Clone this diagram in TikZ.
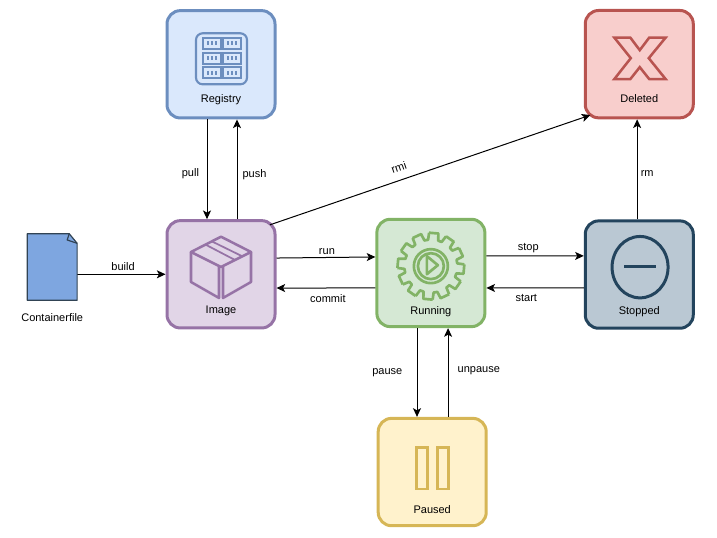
\documentclass[tikz,border=0pt]{standalone}
\usepackage{fontspec}
\setmainfont{Liberation Sans}
\usetikzlibrary{arrows.meta}

\definecolor{regfill}{HTML}{DAE8FC}
\definecolor{regline}{HTML}{6C8EBF}
\definecolor{imgfill}{HTML}{E1D5E7}
\definecolor{imgline}{HTML}{9673A6}
\definecolor{runfill}{HTML}{D5E8D4}
\definecolor{runline}{HTML}{82B366}
\definecolor{delfill}{HTML}{F8CECC}
\definecolor{delline}{HTML}{B85450}
\definecolor{stopfill}{HTML}{BAC8D3}
\definecolor{stopline}{HTML}{23445D}
\definecolor{pausefill}{HTML}{FFF2CC}
\definecolor{pauseline}{HTML}{D6B656}
\definecolor{docfill}{HTML}{7EA6E0}
\definecolor{docline}{HTML}{314354}

\tikzset{
  statebox/.style={rectangle,rounded corners=10pt,line width=2.25pt,draw=#1line,fill=#1fill,
    minimum width=81pt,minimum height=80.5pt,inner sep=0pt},
  statetext/.style={font=\fontsize{8.25}{10}\selectfont,text height=6pt,text depth=1.7pt,inner sep=0pt,yshift=-1.4pt},
  edgetext/.style={font=\fontsize{8.25}{10}\selectfont,yshift=-1.2pt},
}

\begin{document}
\begin{tikzpicture}[x=0.75pt,y=-0.75pt,->,>={Stealth[length=6.5pt,width=6pt,inset=1.6pt]},line width=0.75pt]

  \useasboundingbox (0,0) rectangle (717,538);

  \node[statebox=img] (image) at (221,274.3) {};
  \node[statebox=reg] (registry) [above of=image,node distance=157.5pt] {};
  \node[statebox=run] (running) [right of=image,node distance=157.4pt,yshift=1pt] {};
  \node[statebox=stop] (stopped) [right of=running,node distance=156.3pt,yshift=-1.2pt] {};
  \node[statebox=del] (deleted) [above of=stopped,node distance=157.8pt] {};
  \node[statebox=pause] (paused) [below of=running,node distance=149.3pt,xshift=1pt] {};
  \node[rectangle,minimum width=37.3pt,minimum height=50pt,inner sep=0pt,outer sep=0pt] (doc) at (52.2,267) {};

  \node[statetext] (registrytext) at ([yshift=-25.3pt]registry.center) {Registry};
  \node[statetext] (imagetext) at ([yshift=-26pt]image.center) {Image};
  \node[statetext] (runningtext) at ([yshift=-27.7pt]running.center) {Running};
  \node[statetext] (stoppedtext) at ([yshift=-26.5pt]stopped.center) {Stopped};
  \node[statetext] (deletedtext) at ([yshift=-25.3pt]deleted.center) {Deleted};
  \node[statetext] (pausedtext) at ([yshift=-27.7pt]paused.center) {Paused};
  \node[statetext] (doctext) at ([yshift=-37.5pt]doc.center) {Containerfile};

  % connectors
  \draw (doc.east |- image.west) -- node [edgetext,above,pos=.52] {build} (image.west);
  \draw ([xshift=-10.5pt]registry.south) -- node [edgetext,left=2.3pt,pos=.525] {pull} ([xshift=-10.5pt]image.north);
  \draw ([xshift=12pt]image.north) -- node [edgetext,right=.5pt,pos=.46] {push} ([xshift=12pt]registry.south);
  \draw ([yshift=12.2pt]image.east) -- node [edgetext,above,pos=.51] {run} ([yshift=12pt]running.west);
  \draw ([yshift=-11.25pt]running.west) -- node [edgetext,below,pos=.48] {commit} ([yshift=-10.3pt]image.east);
  \draw ([yshift=12.75pt]running.east) -- node [edgetext,above,pos=.43] {stop} ([yshift=14pt]stopped.west);
  \draw ([yshift=-10pt]stopped.west) -- node [edgetext,below,pos=.59] {start} ([yshift=-11.25pt]running.east);
  \draw ([xshift=-10.4pt]running.south) -- node [edgetext,left=7.3pt,pos=.48] {pause} ([xshift=-11.4pt]paused.north);
  \draw ([xshift=11.9pt]paused.north) -- node [edgetext,right=3.5pt,pos=.54] {unpause} ([xshift=12.9pt]running.south);
  \draw ([xshift=-1.6pt]stopped.north) -- node [edgetext,right=-1pt,pos=.47] {rm} ([xshift=-1.6pt]deleted.south);
  \draw ([xshift=-5pt,yshift=-4.3pt]image.north east) -- node [font=\fontsize{8.25}{10}\selectfont,above=2.5pt,sloped,pos=.415] {rmi} ([xshift=5pt,yshift=3.2pt]deleted.south west);

  % document
  \begin{scope}[-,shift={(doc.center)},draw=docline,line width=0.9pt,line join=round]
    \draw[fill=docfill] (-24.9,-33.3) -- (17,-33.3) -- (24.9,-23.7) -- (24.9,33.3) -- (-24.9,33.3) -- cycle;
    \draw (17,-33.3) -- (15,-27) -- (24.9,-23.7);
  \end{scope}

  % registry icon
  \begin{scope}[-,shift={(registry.center)},draw=regline,line width=1.6pt]
    \draw[rounded corners=5pt] (-25,-31) rectangle (26,20);
    \foreach \col in {-18,2} {
      \foreach \row in {-26.5,-11.5,3} {
        \draw (\col,\row) rectangle ++(18,11);
        \foreach \dot in {5,9,13} {
          \draw[line width=1.2pt] (\col+\dot,\row+3.5) -- ++(0,4);
        }
      }
    }
  \end{scope}

  % image icon
  \begin{scope}[-,shift={(image.center)},draw=imgline,line width=1.9pt,line join=round]
    \draw (0,-37.6) -- (30,-22.3) -- (0,-7.3) -- (-30,-22.3) -- cycle;
    \draw (-30,-22.3) -- (-30,7.7) -- (-2,23.7) -- (-2,-7.3);
    \draw (30,-22.3) -- (30,7.7) -- (2,23.7) -- (2,-7.3);
    \draw[line width=1.3pt] (-15.3,-29.6) -- (14,-14.3);
    \draw[line width=1.3pt] (-9.3,-33) -- (20.7,-18.3);
  \end{scope}

  % running icon
  \begin{scope}[-,shift={([yshift=5.1pt]running.center)},draw=runline,line width=2pt,line join=round]
    \foreach \tooth in {5,35,...,335} {
      \draw (\tooth-8:33.5) -- (\tooth+8:33.5) -- (\tooth+11:26.5) -- (\tooth+19:26.5) -- (\tooth+22:33.5);
    }
    \draw (0,0) circle (17);
    \draw (0,0) circle (13);
    \draw (-4,-10) -- (7,-1) -- (-4,8) -- cycle;
  \end{scope}

  % stopped icon
  \begin{scope}[-,shift={(stopped.center)},draw=stopline,line width=2.25pt]
    \draw (0.8,-7.4) ellipse (28 and 30.7);
    \draw (-15.2,-8) -- (16.8,-8);
  \end{scope}

  % deleted icon
  \begin{scope}[-,shift={(deleted.center)},draw=delline,line width=1.9pt,line join=miter]
    \draw (-25,-26.6) -- (-9,-26.6) -- (0.5,-14) -- (10,-26.6) -- (26.4,-26.6) -- (9.5,-6) -- (26.4,15) -- (10,15) -- (0.5,3) -- (-9,15) -- (-25,15) -- (-8.5,-6) -- cycle;
  \end{scope}

  % paused icon
  \begin{scope}[-,shift={(paused.center)},draw=pauseline,line width=1.9pt]
    \draw (-15.5,-24.3) rectangle (-4.5,17);
    \draw (5.1,-24.3) rectangle (16.5,17);
  \end{scope}

\end{tikzpicture}
\end{document}
